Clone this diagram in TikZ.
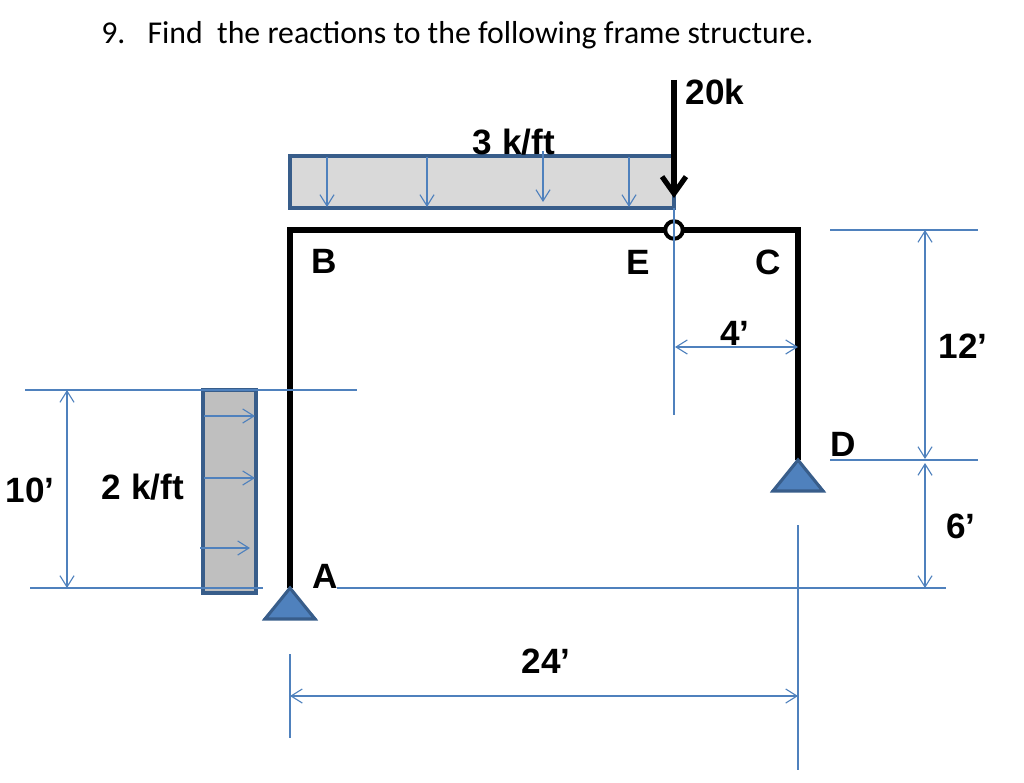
\documentclass[tikz,border=0pt]{standalone}
\usepackage{fontspec}
\setmainfont{Liberation Sans}
\newfontfamily\titlefont{Carlito}
\usetikzlibrary{arrows.meta}
\definecolor{dimblue}{HTML}{4F81BD}
\definecolor{edgeblue}{HTML}{385D8A}
\begin{document}
\begin{tikzpicture}
  [x=0.025cm,y=-0.025cm,
   every node/.style={inner sep=0pt,font=\fontsize{25}{29}\selectfont\bfseries},
   barb/.style={-{Straight Barb[length=8pt,width=10pt,line width=.8pt]}},
   dbarb/.style={{Straight Barb[length=8pt,width=10pt,line width=.8pt]}-{Straight Barb[length=8pt,width=10pt,line width=.8pt]}}]
  \tikzstyle{dimline} = [draw=dimblue,line width=.85pt]
  \tikzstyle{loadedge} = [draw=edgeblue,line width=2.2pt]
  \tikzstyle{member} = [draw=black,line width=3.7pt]
  \tikzstyle{support} = [draw=edgeblue,line width=2.2pt]
  \useasboundingbox (0,0) rectangle (1024,782);

  % points of the frame
  \coordinate (A) at (290,588);
  \coordinate (B) at (290,230);
  \coordinate (E) at (674,230);
  \coordinate (C) at (798,230);
  \coordinate (D) at (798,460);

  % loads
  \fill[black!15] (290,156) rectangle (674,208);
  \draw[loadedge] (290,156) rectangle (674,208);
  \fill[black!25] (203,390) rectangle (256,593);
  \draw[loadedge] (203,390) rectangle (256,593);

  % frame and supports
  \draw[member] (A) -- (B) -- (C) -- (D);
  \fill[dimblue] (A) -- (263,619) -- (317,619) -- cycle;
  \draw[support] (A) -- (265,619) -- (315,619) -- cycle;
  \fill[dimblue] (D) -- (771,491) -- (825,491) -- cycle;
  \draw[support] (D) -- (773,491) -- (823,491) -- cycle;
  \coordinate (p20) at (674,80);
  \coordinate (p20t) at (674,198);
  \draw[draw=black,line width=3.7pt,-{Straight Barb[length=12pt,width=17pt,line width=3.7pt]}] (p20) -- (p20t);
  \node[circle,draw=black,line width=2.8pt,minimum size=12.5pt,fill=white] (hinge) at (E) {};

  % dimension and load arrows
  \foreach \xa/\ya/\xb/\yb in {327/157/327/207,427/157/427/207,543/151/543/202,629/157/629/207,
      204/416/255/416,204/478/255/478,200/548/250/548}
    \draw[dimline,barb] (\xa,\ya) -- (\xb,\yb);
  \foreach \xa/\ya/\xb/\yb in {67/390/67/588,925/230/925/459,925/463/925/588,675/347/798/347,290/696/798/696}
    \draw[dimline,dbarb] (\xa,\ya) -- (\xb,\yb);
  \foreach \xa/\ya/\xb/\yb in {25/390/357/390,30/588/263/588,337/588/946/588,830/230/978/230,830/460/978/460,
      674/208/674/415,290/654/290/738,798/525/798/770}
    \draw[dimline] (\xa,\ya) -- (\xb,\yb);

  % labels
  \node[font=\titlefont\fontsize{22.6}{26}\selectfont,anchor=west] (title) at (101,35) {9.\hspace{0.7em}Find\hspace{0.45em}the reactions to the following frame structure.};
  \node (w1) at (514,142) {3 k/ft};
  \node (p1) at (715,92) {20k};
  \node (lB) at (324,261) {B};
  \node (lE) at (638,262) {E};
  \node (lC) at (768,262) {C};
  \node (lD) at (843,444) {D};
  \node (lA) at (325,576) {A};
  \node (d4) at (735,333) {4’};
  \node (d12) at (963,346) {12’};
  \node (d6) at (961,526) {6’};
  \node (d10) at (30,490) {10’};
  \node (w2) at (143,487) {2 k/ft};
  \node (d24) at (546,661) {24’};
\end{tikzpicture}
\end{document}
